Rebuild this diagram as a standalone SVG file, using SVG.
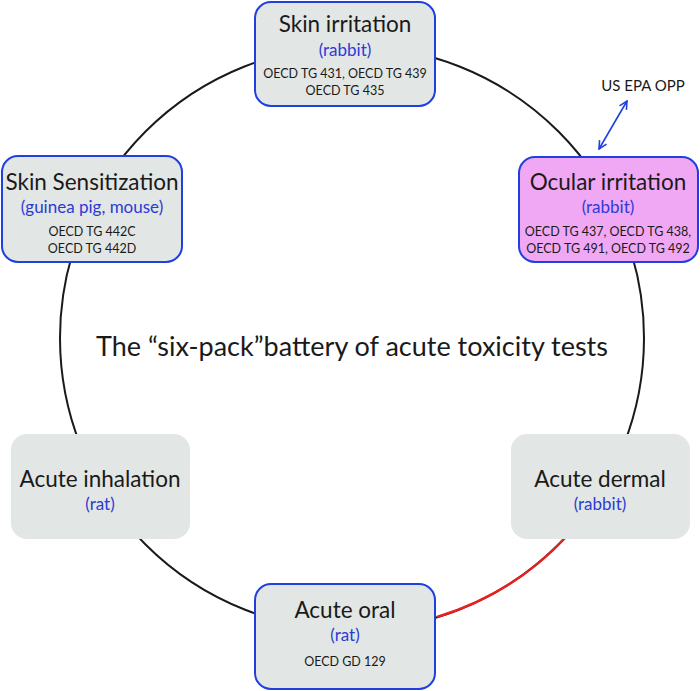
<svg xmlns="http://www.w3.org/2000/svg" width="700" height="691" viewBox="0 0 700 691">
<defs>
<style>
text{font-family:Lato,"Open Sans","Liberation Sans",sans-serif;text-anchor:middle;fill:#1a1a1a}
.t{font-size:22.5px}
.s{font-size:17px;fill:#2b3bd6}
.r{font-size:12.5px}
.box{fill:#e2e6e4}
.bb{stroke:#1f3fe0;stroke-width:2}
</style>
<marker id="ah" viewBox="0 0 10 10" refX="9" refY="5" markerWidth="10" markerHeight="10" orient="auto-start-reverse" markerUnits="userSpaceOnUse"><path d="M1,1 L9,5 L1,9" fill="none" stroke="#1f3fe0" stroke-width="1.6"/></marker>
</defs>
<rect width="700" height="691" fill="#fff"/>
<g id="connectors">
<circle cx="352" cy="338" r="292" fill="none" stroke="#1a1a1a" stroke-width="2"/>
<path d="M567,536 A292,292 0 0 1 437,617" fill="none" stroke="#e8201e" stroke-width="2.4"/>
<line x1="599" y1="149" x2="627" y2="101" stroke="#1f3fe0" stroke-width="1.6" marker-start="url(#ah)" marker-end="url(#ah)"/>
</g>
<text x="643" y="91" style="font-size:15px">US EPA OPP</text>
<text x="352" y="356" style="font-size:27px">The “six-pack”battery of acute toxicity tests</text>
<g id="skin-irritation">
<rect class="box bb" x="255" y="2" width="180" height="104" rx="16"/>
<text class="t" x="345" y="32">Skin irritation</text>
<text class="s" x="345" y="56">(rabbit)</text>
<text class="r" x="345" y="78">OECD TG 431, OECD TG 439</text>
<text class="r" x="345" y="95">OECD TG 435</text>
</g>
<g id="skin-sensitization">
<rect class="box bb" x="2" y="156" width="180" height="106" rx="16"/>
<text class="t" x="92" y="190">Skin Sensitization</text>
<text class="s" x="92" y="213">(guinea pig, mouse)</text>
<text class="r" x="92" y="236">OECD TG 442C</text>
<text class="r" x="92" y="253">OECD TG 442D</text>
</g>
<g id="ocular-irritation">
<rect class="bb" fill="#f0a8f4" x="519" y="157" width="179" height="105" rx="16"/>
<text class="t" x="608" y="190">Ocular irritation</text>
<text class="s" x="608" y="213">(rabbit)</text>
<text class="r" x="608" y="236">OECD TG 437, OECD TG 438,</text>
<text class="r" x="608" y="253">OECD TG 491, OECD TG 492</text>
</g>
<g id="acute-inhalation">
<rect class="box" x="11" y="434" width="179" height="105" rx="16"/>
<text class="t" x="100" y="487">Acute inhalation</text>
<text class="s" x="100" y="510">(rat)</text>
</g>
<g id="acute-dermal">
<rect class="box" x="511" y="434" width="179" height="105" rx="16"/>
<text class="t" x="600" y="487">Acute dermal</text>
<text class="s" x="600" y="510">(rabbit)</text>
</g>
<g id="acute-oral">
<rect class="box bb" x="255" y="584" width="180" height="105" rx="16"/>
<text class="t" x="345" y="618">Acute oral</text>
<text class="s" x="345" y="641">(rat)</text>
<text class="r" x="345" y="666">OECD GD 129</text>
</g>
</svg>
